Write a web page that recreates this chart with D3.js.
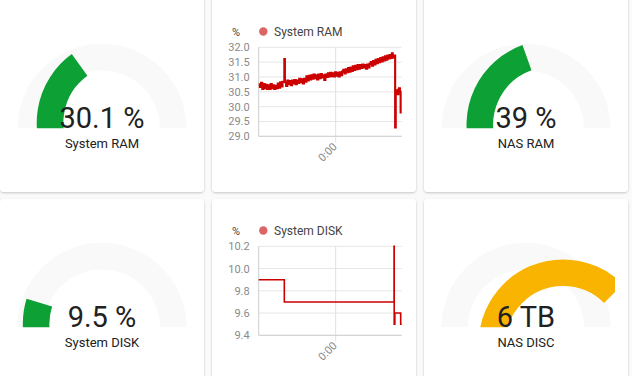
<!DOCTYPE html>
<html>
<head>
<meta charset="utf-8">
<script src="https://cdn.jsdelivr.net/npm/d3@7/dist/d3.min.js"></script>
<style>
  html, body { margin: 0; padding: 0; background: #fafafa; overflow: hidden; }
  svg { display: block; font-family: Roboto, 'Noto Sans', sans-serif; }
</style>
</head>
<body>
<svg id="dash" width="632" height="376"></svg>
<script>
// gauge cards
const gaugeNames = ['System RAM', 'NAS RAM', 'System DISK', 'NAS DISC']
const gaugeValues = [30.1, 39, 9.5, 6]
const gaugeUnits = ['%', '%', '%', 'TB']
const gaugeMin = [0, 0, 0, 0]
const gaugeMax = [100, 100, 100, 8]
const gaugeColors = ['#0da035', '#0da035', '#0da035', '#f8b400']
const gaugeCols = [0, 2, 0, 2]
const gaugeRows = [0, 0, 1, 1]

// history cards: [hours since window start, value]
const ramName = 'System RAM'
const ramPoints = [
  [0.0, 30.75], [0.2, 30.66], [0.4, 30.8], [0.6, 30.6], [0.8, 30.76], [1.0, 30.62],
  [1.2, 30.74], [1.4, 30.6], [1.6, 30.72], [1.8, 30.6], [2.0, 30.76], [2.2, 30.62],
  [2.4, 30.72], [2.6, 30.6], [2.8, 30.7], [3.0, 30.62], [3.2, 30.78], [3.4, 30.64],
  [3.6, 30.82], [3.8, 30.68], [4.0, 30.84], [4.3, 31.6], [4.4, 30.82], [4.6, 30.7],
  [4.8, 30.88], [5.0, 30.76], [5.2, 30.86], [5.4, 30.72], [5.6, 30.88], [5.8, 30.78],
  [6.0, 30.9], [6.2, 30.76], [6.4, 30.88], [6.6, 30.8], [6.8, 30.94], [7.0, 30.82],
  [7.2, 30.92], [7.4, 30.78], [7.6, 30.94], [7.8, 30.84], [8.0, 31.02], [8.2, 30.88],
  [8.4, 31.04], [8.6, 30.92], [8.8, 31.06], [9.0, 30.94], [9.2, 31.08], [9.4, 30.96],
  [9.6, 31.06], [9.8, 30.92], [10.0, 31.08], [10.2, 30.96], [10.4, 31.1], [10.6, 30.98],
  [10.8, 31.06], [11.0, 30.9], [11.2, 31.08], [11.4, 31.0], [11.6, 31.12], [11.8, 31.02],
  [12.0, 31.14], [12.2, 31.03], [12.4, 31.12], [12.6, 31.02], [12.8, 31.16], [13.0, 31.04],
  [13.2, 31.14], [13.4, 31.02], [13.6, 31.16], [13.8, 31.06], [14.0, 31.18], [14.2, 31.24],
  [14.4, 31.12], [14.6, 31.26], [14.8, 31.16], [15.0, 31.3], [15.2, 31.18], [15.4, 31.32],
  [15.6, 31.2], [15.8, 31.36], [16.0, 31.24], [16.2, 31.38], [16.4, 31.26], [16.6, 31.4],
  [16.8, 31.28], [17.0, 31.4], [17.2, 31.3], [17.4, 31.42], [17.6, 31.32], [17.8, 31.4],
  [18.0, 31.28], [18.2, 31.42], [18.4, 31.32], [18.6, 31.44], [18.8, 31.5], [19.0, 31.38],
  [19.2, 31.54], [19.4, 31.42], [19.6, 31.58], [19.8, 31.46], [20.0, 31.6], [20.2, 31.5],
  [20.4, 31.64], [20.6, 31.52], [20.8, 31.66], [21.0, 31.56], [21.2, 31.7], [21.4, 31.58],
  [21.6, 31.72], [21.8, 31.62], [22.0, 31.74], [22.2, 31.64], [22.35, 31.8], [22.5, 31.66],
  [22.7, 31.72], [22.9, 29.3], [23.0, 30.45], [23.15, 30.55], [23.3, 30.42], [23.45, 30.58],
  [23.55, 30.62], [23.7, 30.5], [23.82, 29.8], [24.0, 29.8]
]
const ramTicks = [29.0, 29.5, 30.0, 30.5, 31.0, 31.5, 32.0]

const diskName = 'System DISK'
const diskPoints = [
  [0.0, 9.9], [4.3, 9.7], [22.72, 10.2], [22.74, 9.5], [22.85, 9.6], [23.83, 9.5], [24.0, 9.5]
]
const diskTicks = [9.4, 9.6, 9.8, 10.0, 10.2]

const windowStart = new Date(2023, 0, 1, 11, 5)
const unitLabel = '%'

// layout
const cardX = [0, 212, 424]
const rowTop = [0, 199]
const cardW = 204

const svg = d3.select('#dash')

const defs = svg.append('defs')
const shadow = defs.append('filter').attr('id', 'shadow')
  .attr('x', '-10%').attr('y', '-10%').attr('width', '120%').attr('height', '120%')
shadow.append('feDropShadow').attr('dx', 0).attr('dy', 1).attr('stdDeviation', 1.2)
  .attr('flood-color', '#000').attr('flood-opacity', 0.22)

// cards
const cards = []
for (let r = 0; r < 2; r++) for (let c = 0; c < 3; c++) cards.push({ r, c })
svg.append('g').attr('id', 'cards')
  .selectAll('rect')
  .data(cards)
  .join('rect')
  .attr('x', (d) => cardX[d.c])
  .attr('y', (d) => (d.r == 0 ? -8 : rowTop[1]))
  .attr('width', cardW)
  .attr('height', 200)
  .attr('rx', 4)
  .attr('fill', '#fff')
  .attr('filter', 'url(#shadow)')

// gauges
const gScale = 1.78 // px per viewBox unit
gaugeNames.forEach((name, i) => {
  const cx = cardX[gaugeCols[i]] + cardW / 2
  const base = rowTop[gaugeRows[i]] + 128.3
  const angle = d3.scaleLinear([gaugeMin[i], gaugeMax[i]], [0, 180])(gaugeValues[i])

  const g = svg.append('svg')
    .attr('x', cx - 50 * gScale)
    .attr('y', base - 50 * gScale)
    .attr('width', 100 * gScale)
    .attr('height', 50 * gScale)
    .attr('viewBox', '-50 -50 100 50')

  g.append('path')
    .attr('d', 'M -40 0 A 40 40 0 0 1 40 0')
    .attr('fill', 'none')
    .attr('stroke', '#f9f9f9')
    .attr('stroke-width', 15)

  g.append('path')
    .attr('d', 'M -40 0 A 40 40 0 1 0 40 0')
    .attr('fill', 'none')
    .attr('stroke', gaugeColors[i])
    .attr('stroke-width', 15)
    .attr('transform', `rotate(${angle}, 8.5, 9)`)

  svg.append('text')
    .attr('x', cx)
    .attr('y', base - 0.5)
    .attr('text-anchor', 'middle')
    .attr('font-size', 29)
    .attr('fill', '#212121')
    .text(`${gaugeValues[i]} ${gaugeUnits[i]}`)

  svg.append('text')
    .attr('x', cx)
    .attr('y', base + 19.7)
    .attr('text-anchor', 'middle')
    .attr('font-size', 13)
    .attr('fill', '#212121')
    .text(name)
})

// history charts
function history(row, name, points, ticks, lineWidth) {
  const left = 46.7, right = 189.7, top = 47.3, bottom = 136.3
  const g = svg.append('g')
    .attr('transform', `translate(${cardX[1]},${rowTop[row]})`)

  const x = d3.scaleTime(
    [windowStart, d3.timeHour.offset(windowStart, 24)],
    [left, right]
  )
  const y = d3.scaleLinear([ticks[0], ticks[ticks.length - 1]], [bottom, top])
  const hourToDate = (h) => new Date(+windowStart + h * 3600e3)

  // grid
  g.append('g')
    .selectAll('line')
    .data(ticks)
    .join('line')
    .attr('x1', left).attr('x2', right)
    .attr('y1', (d) => y(d)).attr('y2', (d) => y(d))
    .attr('stroke', '#e6e6e6')

  const xTicks = x.ticks(d3.timeDay)
  g.append('g')
    .selectAll('line')
    .data(xTicks)
    .join('line')
    .attr('x1', (d) => x(d)).attr('x2', (d) => x(d))
    .attr('y1', top).attr('y2', bottom + 6)
    .attr('stroke', '#e0e0e0')

  // axis lines
  g.append('line')
    .attr('x1', left).attr('x2', left).attr('y1', top).attr('y2', bottom)
    .attr('stroke', '#cfcfcf')
  g.append('line')
    .attr('x1', left).attr('x2', right).attr('y1', bottom).attr('y2', bottom)
    .attr('stroke', '#cfcfcf')

  // y labels
  g.append('g')
    .attr('transform', `translate(${left - 9},0)`)
    .call(d3.axisLeft(y).tickValues(ticks).tickFormat(d3.format('.1f')).tickSize(0).tickPadding(0))
    .call((a) => a.select('.domain').remove())
    .call((a) => a.selectAll('text')
      .attr('font-family', 'Roboto, sans-serif')
      .attr('font-size', 11)
      .attr('fill', '#8a8a8a'))

  // x labels
  g.append('g')
    .selectAll('text')
    .data(xTicks)
    .join('text')
    .attr('transform', (d) => `translate(${x(d) + 2},${bottom + 11}) rotate(-45)`)
    .attr('text-anchor', 'end')
    .attr('font-size', 11)
    .attr('fill', '#8a8a8a')
    .text(d3.timeFormat('%-H:%M'))

  // unit + legend
  g.append('text')
    .attr('x', 20).attr('y', 35.5)
    .attr('font-size', 11)
    .attr('fill', '#444')
    .text(unitLabel)
  g.append('circle')
    .attr('cx', 51.3).attr('cy', 31.5).attr('r', 4.2)
    .attr('fill', '#dc6464')
  g.append('text')
    .attr('x', 62).attr('y', 35.5)
    .attr('font-size', 12)
    .attr('fill', '#444')
    .text(name)

  // line
  const line = d3.line()
    .x((d) => x(hourToDate(d[0])))
    .y((d) => y(d[1]))
    .curve(d3.curveStepAfter)

  g.append('path')
    .datum(points)
    .attr('d', line)
    .attr('fill', 'none')
    .attr('stroke', '#cc0000')
    .attr('stroke-width', lineWidth)
}

history(0, ramName, ramPoints, ramTicks, 2.1)
history(1, diskName, diskPoints, diskTicks, 1.6)
</script>
</body>
</html>
